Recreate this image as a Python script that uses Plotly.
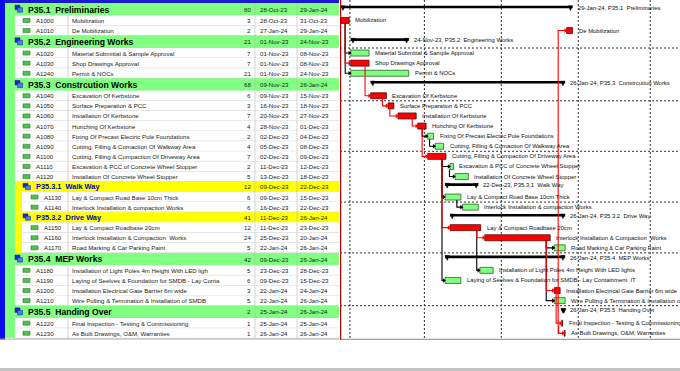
import plotly.graph_objects as go
from datetime import datetime, timedelta

# ---------------- data ----------------
codes = ["P35.1", "A1000", "A1010", "P35.2", "A1020", "A1030", "A1240", "P35.3",
         "A1040", "A1050", "A1060", "A1070", "A1080", "A1090", "A1100", "A1110", "A1120",
         "P35.3.1", "A1130", "A1140", "P35.3.2", "A1150", "A1160", "A1170",
         "P35.4", "A1180", "A1190", "A1200", "A1210", "P35.5", "A1220", "A1230"]
names = ["Preliminaries", "Mobilization", "De Mobilization", "Engineering Works",
         "Material Submittal & Sample Approval", "Shop Drawings Approval", "Permit & NOCs",
         "Constrcution Works", "Excavation Of Kerbstone", "Surface Preparation & PCC",
         "Installation Of Kerbstone", "Hunching Of Kerbstone",
         "Fixing Of Precast Electric Pole Foundations",
         "Cutting, Filling & Comaction Of Walkway Area",
         "Cutting, Filling & Compaction Of Driveway Area",
         "Excavation & PCC of Concrete Wheel Stopper", "Installation Of Concrete Wheel Stopper",
         "Walk Way", "Lay & Compact Road Base 10cm Thick", "Interlock Installation & compaction Works",
         "Drive Way", "Lay & Compact Roadbase 20cm", "Interlock Installation & Compaction  Works",
         "Road Marking & Car Parking Paint", "MEP Works",
         "Installation of Light Poles 4m Height With LED lights",
         "Laying of Seelves & Foundation for SMDB - Lay Containment  IT",
         "Installation Electrical Gate Barrier 6m wide",
         "Wire Pulling & Termination & Installation of SMDB", "Handing Over",
         "Final Inspection - Testing & Commissioning", "As Built Drawings, O&M, Warranties"]
durations = [80, 3, 2, 21, 7, 7, 21, 68, 6, 3, 7, 4, 2, 4, 7, 2, 5, 12, 6, 6, 41, 12, 24, 5,
             42, 5, 6, 3, 5, 2, 1, 1]
starts = ["28-Oct-23", "28-Oct-23", "27-Jan-24", "01-Nov-23", "01-Nov-23", "01-Nov-23", "01-Nov-23",
          "09-Nov-23", "09-Nov-23", "16-Nov-23", "20-Nov-23", "28-Nov-23", "02-Dec-23", "05-Dec-23",
          "02-Dec-23", "11-Dec-23", "13-Dec-23", "09-Dec-23", "09-Dec-23", "16-Dec-23", "11-Dec-23",
          "11-Dec-23", "25-Dec-23", "22-Jan-24", "09-Dec-23", "23-Dec-23", "09-Dec-23", "22-Jan-24",
          "22-Jan-24", "25-Jan-24", "25-Jan-24", "26-Jan-24"]
finishes = ["29-Jan-24", "31-Oct-23", "29-Jan-24", "24-Nov-23", "08-Nov-23", "08-Nov-23", "24-Nov-23",
            "26-Jan-24", "15-Nov-23", "18-Nov-23", "27-Nov-23", "01-Dec-23", "04-Dec-23", "08-Dec-23",
            "09-Dec-23", "12-Dec-23", "18-Dec-23", "22-Dec-23", "15-Dec-23", "22-Dec-23", "26-Jan-24",
            "23-Dec-23", "20-Jan-24", "26-Jan-24", "26-Jan-24", "28-Dec-23", "15-Dec-23", "24-Jan-24",
            "26-Jan-24", "26-Jan-24", "25-Jan-24", "26-Jan-24"]
kinds = ["wbs1", "act", "act", "wbs1", "act", "act", "act", "wbs1",
         "act", "act", "act", "act", "act", "act", "act", "act", "act",
         "wbs2", "sub", "sub", "wbs2", "sub", "sub", "sub",
         "wbs1", "act", "act", "act", "act", "wbs1", "act", "act"]
critical = [0, 1, 1, 0, 0, 1, 0, 0, 1, 1, 1, 1, 0, 0, 1, 0, 0, 0, 0, 0, 0, 1, 1, 0,
            0, 0, 0, 1, 0, 0, 1, 1]
links_red = [("A1000", "A1030"), ("A1030", "A1040"), ("A1040", "A1050"), ("A1050", "A1060"),
             ("A1060", "A1070"), ("A1070", "A1100"), ("A1100", "A1150"), ("A1150", "A1160"),
             ("A1160", "A1200"), ("A1200", "A1220"), ("A1220", "A1230"), ("A1230", "A1010")]
links_black = [("A1000", "A1020"), ("A1000", "A1240"), ("A1070", "A1080"), ("A1080", "A1090"),
               ("A1100", "A1110"), ("A1110", "A1120"), ("A1100", "A1130"), ("A1100", "A1190"),
               ("A1130", "A1140"), ("A1150", "A1180"), ("A1160", "A1170"), ("A1160", "A1210")]
view_start, view_end = "2023-10-28", "2024-03-13"

# ---------------- geometry / style ----------------
FONT = "Liberation Sans, Arial, sans-serif"
FS = 6.1
GFS = 5.9
ROW_H = {"wbs1": 12.4, "wbs2": 10.4, "act": 10.1, "sub": 10.1}
TOP = 3.0
TABLE_R = 339
GREEN, YELLOW, BLUE = "#80ff80", "#ffff00", "#0a0aee"
GRID = "#c8c8c8"
PXDAY = 340 / 137.0

def pdate(s):
    return datetime.strptime(s, "%d-%b-%y")

tops, bots, cens = [], [], []
y = TOP
for k in kinds:
    tops.append(y); y += ROW_H[k]; bots.append(y); cens.append((tops[-1] + bots[-1]) / 2)
TABLE_B = bots[-1]
idx = {c: i for i, c in enumerate(codes)}
bstart = [pdate(s) + timedelta(hours=8) for s in starts]
bend = [pdate(f) + timedelta(hours=17) for f in finishes]
v0, v1 = datetime.fromisoformat(view_start), datetime.fromisoformat(view_end)

shapes, annos, traces = [], [], []

def rect(xref, x0, x1, y0, y1, fill, line=None, lw=0, layer="below"):
    shapes.append(dict(type="rect", xref=xref, yref="y", x0=x0, x1=x1, y0=y0, y1=y1,
                       fillcolor=fill, line=dict(color=line or fill, width=lw), layer=layer))

def seg(xref, x0, x1, y0, y1, color, w=1, dash=None, layer="below"):
    ln = dict(color=color, width=w)
    if dash:
        ln["dash"] = dash
    shapes.append(dict(type="line", xref=xref, yref="y", x0=x0, x1=x1, y0=y0, y1=y1,
                       line=ln, layer=layer))

def txt(xref, x, y, t, size=FS, color="#1a1a1a", anchor="left", bold=False, xshift=0):
    annos.append(dict(xref=xref, yref="y", x=x, y=y, text=("<b>%s</b>" % t) if bold else t,
                      showarrow=False, xanchor=anchor, yanchor="middle", xshift=xshift,
                      font=dict(family=FONT, size=size, color=color), borderpad=0))

# ---------------- table ----------------
rect("x", 0, TABLE_R, 0, TOP, "#1a1ad0")
rect("x", 0, 5, 0, TABLE_B + 1.5, BLUE)
rect("x", 5, 15, TOP, TABLE_B, GREEN)
for i, k in enumerate(kinds):
    t, b, c = tops[i], bots[i], cens[i]
    if k == "wbs1":
        rect("x", 5, TABLE_R, t, b, GREEN)
        for xs in (255, 297):
            seg("x", xs, xs, t, b, "#a8cca8", 0.8)
        rect("x", 15, 20, c - 4, c + 0.5, "#1c2cc8", "#10108a", 0.5)
        rect("x", 17.5, 22.5, c - 1.5, c + 3, "#4f7cff", "#10108a", 0.5)
        txt("x", 27, c + 0.3, codes[i] + "  " + names[i], size=8.6, color="#000000", bold=True)
    elif k == "wbs2":
        rect("x", 15, TABLE_R, t, b, YELLOW)
        for xs in (255, 297):
            seg("x", xs, xs, t, b, "#c8c890", 0.8)
        rect("x", 23, 28, c - 3.5, c + 0.5, "#1c2cc8", "#10108a", 0.5)
        rect("x", 25.5, 30.5, c - 1.2, c + 2.8, "#4f7cff", "#10108a", 0.5)
        txt("x", 35, c, codes[i] + "  " + names[i], size=7.4, color="#0000c8", bold=True)
    else:
        x_in = 15 if k == "act" else 22
        if k == "sub":
            rect("x", 15, 22, t, b, YELLOW)
        rect("x", x_in, TABLE_R, t, b, "#ffffff")
        seg("x", x_in, TABLE_R, b, b, GRID, 0.8)
        for xs in (68, 255, 297):
            seg("x", xs, xs, t, b, GRID, 0.8)
        ix = 23 if k == "act" else 31
        shapes.append(dict(type="rect", xref="x", yref="y", x0=ix, x1=ix + 7, y0=c - 2, y1=c + 2,
                           fillcolor="#4cc44c", line=dict(color="#2a7a2a", width=0.6), layer="below"))
        txt("x", 35 if k == "act" else 43, c, codes[i])
        txt("x", 71, c, names[i][:51])
    txt("x", 252, cens[i], str(durations[i]), anchor="right")
    txt("x", 259, cens[i], starts[i])
    txt("x", 299, cens[i], finishes[i])
seg("x", 0, TABLE_R, TABLE_B + 0.8, TABLE_B + 0.8, "#b4b4b4", 1)
rect("x", 0, 340, 368, 371, "#c4c4c4")

# ---------------- gantt background ----------------
m = datetime(v0.year, v0.month, 1)
while m < v1:
    if m > v0:
        seg("x2", m, m, 0, TABLE_B + 1, "#303030", 1, "2px,2px")
    m = datetime(m.year + (m.month // 12), m.month % 12 + 1, 1)
for i in range(len(codes)):
    if i % 5 == 3:
        seg("x2", v0, v1, bots[i], bots[i], "#303030", 1, "2px,2px")
seg("x2", v0, v1, TABLE_B + 1, TABLE_B + 1, "#a0a0a0", 1.2)
seg("x2", v0, v0, 0, TABLE_B + 1.5, "#b00000", 2.4, layer="above")
rect("x2", v0, v1, 368, 371, "#c4c4c4")

# ---------------- relationship lines ----------------
def link_traces(links, color):
    xs, ys, ax, ay = [], [], [], []
    for p, s in links:
        ip, is_ = idx[p], idx[s]
        if cens[is_] > cens[ip]:
            xv = min(bend[ip] - timedelta(days=4 / PXDAY), bstart[is_] - timedelta(days=3 / PXDAY))
            pts = [(xv, cens[ip] + 3), (xv, cens[is_]), (bstart[is_], cens[is_])]
        else:
            xv = bstart[ip] - timedelta(days=6 / PXDAY)
            pts = [(bstart[ip], cens[ip]), (xv, cens[ip]), (xv, cens[is_]), (bstart[is_], cens[is_])]
        for px_, py_ in pts:
            xs.append(px_); ys.append(py_)
        xs.append(None); ys.append(None)
        ax.append(bstart[is_] - timedelta(days=1.2 / PXDAY)); ay.append(cens[is_])
    traces.append(go.Scatter(x=xs, y=ys, mode="lines", line=dict(color=color, width=1.1),
                             xaxis="x2", yaxis="y", hoverinfo="skip", showlegend=False))
    traces.append(go.Scatter(x=ax, y=ay, mode="markers", xaxis="x2", yaxis="y",
                             marker=dict(symbol="triangle-right", size=4, color=color),
                             hoverinfo="skip", showlegend=False))

link_traces(links_black, "#000000")
link_traces(links_red, "#ff0000")

# ---------------- bars ----------------
act_i = [i for i, k in enumerate(kinds) if k in ("act", "sub")]
sum_i = [i for i, k in enumerate(kinds) if k in ("wbs1", "wbs2")]
traces.append(go.Bar(
    orientation="h", xaxis="x2", yaxis="y",
    y=[cens[i] for i in act_i],
    base=[bstart[i].isoformat() for i in act_i],
    x=[(bend[i] - bstart[i]).total_seconds() * 1000 for i in act_i],
    width=6,
    marker=dict(color=["#ff0000" if critical[i] else "#80ff80" for i in act_i],
                line=dict(color=["#3a0000" if critical[i] else "#1e4a1e" for i in act_i], width=0.7)),
    hoverinfo="skip", showlegend=False))
traces.append(go.Bar(
    orientation="h", xaxis="x2", yaxis="y",
    y=[cens[i] - 2.2 for i in sum_i],
    base=[bstart[i].isoformat() for i in sum_i],
    x=[(bend[i] - bstart[i]).total_seconds() * 1000 for i in sum_i],
    width=2.6, marker=dict(color="#000000", line=dict(width=0)),
    hoverinfo="skip", showlegend=False))
tx, ty = [], []
hw = timedelta(days=4.4 / PXDAY)
for i in sum_i:
    t0, t1 = cens[i] - 3.5, cens[i] + 1.4
    for a in (bstart[i], bend[i] - hw):
        tx += [a, a + hw, a + hw / 2, a, None]
        ty += [t0, t0, t1, t0, None]
traces.append(go.Scatter(x=tx, y=ty, mode="lines", fill="toself", fillcolor="#000000",
                         line=dict(color="#000000", width=0.4), xaxis="x2", yaxis="y",
                         hoverinfo="skip", showlegend=False))

# ---------------- gantt labels ----------------
for i in range(len(codes)):
    if kinds[i] in ("wbs1", "wbs2"):
        txt("x2", bend[i], cens[i] - 1.6, "%s, %s  %s" % (finishes[i], codes[i], names[i]),
            size=GFS, color="#101010", xshift=4)
    else:
        txt("x2", bend[i], cens[i], names[i], size=GFS, color="#101010", xshift=5)

fig = go.Figure(traces)
fig.update_layout(
    width=680, height=371, margin=dict(l=0, r=0, t=0, b=0),
    paper_bgcolor="#ffffff", plot_bgcolor="#ffffff",
    barmode="overlay", showlegend=False, shapes=shapes, annotations=annos,
    xaxis=dict(domain=[0, 0.5], range=[0, 340], visible=False, fixedrange=True),
    xaxis2=dict(domain=[0.5, 1], type="date", range=[view_start, view_end], visible=False,
                anchor="y", fixedrange=True),
    yaxis=dict(domain=[0, 1], range=[371, 0], visible=False, fixedrange=True),
)
fig.write_html("out.html")
